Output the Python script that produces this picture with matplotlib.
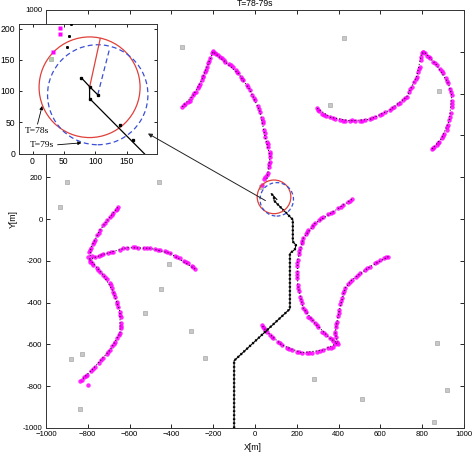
import matplotlib
matplotlib.use("Agg")
import matplotlib.pyplot as plt
from matplotlib.patches import Circle

plt.rcParams['font.family'] = ['Liberation Sans', 'DejaVu Sans']

# ---------------- data ----------------
title = "T=78-79s"
x_ticks = [-1000, -800, -600, -400, -200, 0, 200, 400, 600, 800, 1000]
y_ticks = [-1000, -800, -600, -400, -200, 0, 200, 400, 600, 800, 1000]
# labels of 400/600/800 are hidden under the inset in the reference
y_ticklabels = ['-1000', '-800', '-600', '-400', '-200', '0', '200', '', '', '', '1000']
inset_xticks = [0, 50, 100, 150]
inset_yticks = [0, 50, 100, 150, 200]

# landmarks (gray)
gray_x = [-351, 424, 360, 879, -898, -458, -932, -410, -451, -526, -308, -241, -827, -880, -837, 869, 282, 513, 917, 855, 30]
gray_y = [824, 867, 544, 612, 177, 177, 56, -217, -336, -452, -536, -666, -648, -669, -908, -593, -766, -861, -817, -970, 152]

# estimated target positions (magenta) per target
A_x = [-348, -335, -319, -305, -295, -283, -271, -262, -255, -247, -239, -231, -223, -215, -207, -200, -186, -176, -160, -144, -125, -104, -92, -80, -68, -56, -40, -24, -12, 0, 12, 24, 32, 40, 44, 48, 58, 64, 70, 72, 70, 68, 61, 48, 44, 33]
A_y = [537, 548, 561, 578, 593, 608, 625, 645, 665, 686, 705, 726, 745, 770, 793, 803, 790, 785, 770, 753, 742, 729, 712, 697, 680, 665, 642, 617, 593, 569, 540, 513, 485, 458, 425, 394, 370, 346, 320, 298, 272, 250, 219, 201, 191, 162]
B_x = [298, 308, 319, 338, 359, 383, 407, 430, 455, 478, 502, 526, 550, 574, 598, 622, 646, 666, 686, 706, 726, 738, 750, 762, 773, 781, 789, 794, 797, 805, 813, 825, 837, 853, 869, 885, 901, 913, 925, 933, 941, 943, 941, 936, 930, 924, 917, 905, 893, 881, 869, 857, 845]
B_y = [530, 516, 502, 494, 487, 480, 474, 471, 470, 468, 470, 474, 477, 488, 498, 510, 522, 536, 550, 567, 585, 609, 633, 657, 681, 705, 729, 760, 793, 798, 796, 782, 769, 753, 737, 717, 697, 673, 649, 621, 593, 565, 537, 505, 474, 450, 426, 406, 386, 370, 354, 343, 333]
C_x = [-654, -666, -678, -694, -710, -726, -742, -754, -766, -776, -786, -792, -798, -790, -766, -746, -726, -702, -678, -646, -614, -586, -558, -530, -502, -478, -455, -431, -407, -383, -359, -339, -319, -303, -287]
C_y = [59, 43, 27, 11, -5, -29, -53, -77, -100, -120, -140, -160, -180, -195, -180, -175, -169, -162, -156, -146, -137, -136, -137, -138, -140, -144, -148, -155, -164, -175, -188, -200, -212, -226, -239]
D_x = [-789, -773, -757, -742, -726, -710, -694, -686, -678, -670, -662, -654, -646, -643, -641, -643, -646, -658, -670, -682, -694, -710, -726, -746, -766, -786, -805, -818, -829, -798]
D_y = [-204, -220, -236, -252, -268, -288, -308, -328, -348, -372, -396, -420, -443, -471, -499, -523, -547, -567, -587, -607, -627, -647, -667, -687, -707, -726, -746, -758, -770, -794]
E_x = [463, 443, 423, 399, 375, 351, 327, 307, 287, 271, 255, 243, 231, 223, 215, 209, 204, 201, 199, 201, 204, 209, 215, 223, 231, 243, 255, 271, 287, 303, 319, 339, 359, 375, 391]
E_y = [94, 80, 67, 51, 35, 23, 11, -5, -21, -37, -53, -72, -92, -116, -140, -168, -196, -224, -252, -284, -316, -344, -372, -400, -427, -447, -467, -483, -499, -519, -539, -555, -571, -582, -592]
F_x = [638, 618, 598, 574, 550, 526, 502, 482, 463, 447, 431, 423, 415, 409, 404, 397, 391, 387, 383, 388, 394]
F_y = [-180, -188, -196, -212, -228, -244, -260, -276, -292, -312, -332, -356, -380, -408, -435, -463, -491, -515, -539, -563, -587]
G_x = [375, 351, 327, 299, 271, 247, 223, 199, 176, 152, 128, 108, 88, 72, 56, 44, 32]
G_y = [-611, -619, -627, -634, -640, -641, -640, -634, -627, -615, -603, -587, -571, -555, -539, -523, -507]

# second (scattered) detections per target
A2_x = [-340, -312, -290, -266, -250, -236, -219, -203, -193, -168, -150, -115, -86, -62, -32, -6, 18, 36, 46, 60, 74, 66, 56]
A2_y = [545, 566, 603, 637, 678, 715, 758, 797, 795, 776, 760, 735, 705, 672, 630, 580, 528, 470, 410, 360, 310, 262, 210]
B2_x = [303, 329, 371, 419, 466, 514, 562, 610, 656, 696, 716, 744, 768, 785, 793, 802, 831, 861, 893, 919, 937, 944, 933, 920, 899, 875, 851]
B2_y = [522, 497, 484, 470, 472, 470, 483, 503, 531, 557, 578, 621, 670, 718, 775, 800, 776, 745, 708, 661, 607, 551, 490, 438, 396, 362, 338]
C2_x = [-660, -686, -718, -748, -771, -789, -780, -736, -690, -630, -572, -516, -466, -419, -371, -329, -295]
C2_y = [50, 18, -17, -65, -110, -150, -176, -172, -159, -140, -135, -141, -146, -160, -181, -206, -232]
D2_x = [-781, -750, -718, -690, -674, -658, -644, -640, -652, -676, -702, -736, -776, -811, -835]
D2_y = [-212, -244, -278, -318, -360, -408, -457, -511, -557, -597, -637, -677, -716, -752, -776]
E2_x = [453, 411, 363, 317, 279, 249, 227, 212, 202, 200, 206, 219, 237, 263, 295, 329, 367, 385]
E2_y = [88, 59, 29, 3, -29, -62, -104, -154, -210, -268, -330, -386, -437, -475, -509, -547, -576, -598]
F2_x = [628, 586, 538, 492, 455, 427, 412, 400, 389, 385, 398]
F2_y = [-184, -204, -236, -268, -302, -344, -394, -449, -503, -551, -596]
G2_x = [363, 313, 259, 211, 164, 118, 80, 50, 38]
G2_y = [-615, -630, -640, -637, -621, -595, -563, -531, -515]

# true target tracks (black dotted)
A_tx = [-348, -295, -255, -223, -200, -144, -80, -24, 24, 48, 72, 61, 55]
A_ty = [537, 593, 665, 745, 800, 753, 697, 617, 513, 394, 298, 219, 171]
B_tx = [298, 359, 455, 550, 646, 726, 773, 797, 813, 869, 925, 941, 930, 893, 845]
B_ty = [530, 487, 470, 477, 522, 585, 681, 793, 796, 737, 649, 593, 474, 386, 333]
C_tx = [-287, -407, -502, -614, -726, -790, -786, -742, -654]
C_ty = [-239, -164, -140, -137, -169, -192, -140, -53, 59]
D_tx = [-790, -726, -678, -646, -646, -694, -766, -829]
D_ty = [-195, -268, -348, -443, -547, -627, -707, -770]
E_tx = [463, 375, 287, 231, 204, 204, 231, 287, 359, 391]
E_ty = [94, 35, -21, -92, -196, -316, -427, -499, -571, -592]
F_tx = [638, 550, 463, 431, 404, 383, 394]
F_ty = [-180, -228, -292, -332, -435, -539, -590]
G_tx = [391, 327, 223, 128, 56, 32]
G_ty = [-595, -627, -640, -603, -539, -507]

# robot path
robot_x = [-100, -100, 167, 167, 191, 196, 181, 181, 91, 91, 78]
robot_y = [-1000, -678, -430, -165, -145, -125, -108, -3, 88, 107, 121]
head_x = [91, 104.5]
head_y = [107, 93.5]

# sensing circles: T=78s (red), T=79s (blue)
c78_center = (91, 106)
c78_radius = 80.5
c78_edge = (108, 184)
c79_center = (104, 94)
c79_radius = 80
c79_edge = (123, 168)

# inset-only detail
inset_mag_x = [43.5, 44.6, 33]
inset_mag_y = [201, 191, 162]
inset_dot_x = [60.6, 58, 55]
inset_dot_y = [207, 188, 171]
inset_robot_dot_x = [78, 91, 104.5, 91, 139, 160]
inset_robot_dot_y = [121, 107, 93.5, 88, 45, 22]

# ---------------- figure ----------------
W = 474
fig = plt.figure(figsize=(4.74, 4.74), dpi=100)
ax = fig.add_axes([46 / W, 1 - 428 / W, 418 / W, 418 / W])

MAG = '#ff00ff'
GRAY = '#a8a8a8'

ax.plot(robot_x, robot_y, color='k', lw=0.8, zorder=3)
ax.plot(robot_x, robot_y, color='k', lw=1.7, linestyle=(0, (0.7, 1.0)), zorder=3)
ax.plot(head_x, head_y, color='k', lw=0.8, zorder=3)

mags = [(A_x, A_y), (B_x, B_y), (C_x, C_y), (D_x, D_y), (E_x, E_y), (F_x, F_y), (G_x, G_y),
        (A2_x, A2_y), (B2_x, B2_y), (C2_x, C2_y), (D2_x, D2_y), (E2_x, E2_y), (F2_x, F2_y), (G2_x, G2_y)]
tracks = [(A_tx, A_ty), (B_tx, B_ty), (C_tx, C_ty), (D_tx, D_ty), (E_tx, E_ty), (F_tx, F_ty), (G_tx, G_ty)]
for mx, my in mags:
    ax.plot(mx, my, 'o', color=MAG, ms=3.2, mec='none', alpha=0.85, zorder=2)
for tx, ty in tracks:
    ax.plot(tx, ty, color='k', lw=0.7, linestyle=(0, (1, 2.2)), zorder=4)

ax.plot(gray_x, gray_y, 's', ms=2.3, mfc='#c8c8c8', mec=GRAY, mew=0.5, zorder=1)

ax.add_patch(Circle(c78_center, c78_radius, fill=False, ec='#e0403a', lw=0.9, zorder=5))
ax.add_patch(Circle(c79_center, c79_radius, fill=False, ec='#3a4fd8', lw=0.9, ls=(0, (3, 2)), zorder=5))

ax.set_xlim(-1000, 1000)
ax.set_ylim(-1000, 1000)
ax.set_xticks(x_ticks)
ax.set_yticks(y_ticks)
ax.set_yticklabels(y_ticklabels)
ax.tick_params(direction='in', top=True, right=True, length=3, width=0.6,
               labelsize=5.6, pad=2.5)
for s in ax.spines.values():
    s.set_linewidth(0.7)
    s.set_color('#333333')

fig.text(255 / W, 1 - 4 / W, title, ha='center', va='center', fontsize=6.2)
fig.text(253 / W, 1 - 447 / W, 'X[m]', ha='center', va='center', fontsize=6.2)
fig.text(13 / W, 1 - 219 / W, 'Y[m]', ha='center', va='center', fontsize=6.2, rotation=90)

# ---------------- inset ----------------
ins = fig.add_axes([18.7 / W, 1 - 153.5 / W, 138 / W, 130 / W])
ins.set_facecolor('white')
ins.add_patch(Circle(c78_center, c78_radius, fill=False, ec='#e0403a', lw=0.9, zorder=3))
ins.add_patch(Circle(c79_center, c79_radius, fill=False, ec='#3a4fd8', lw=0.9, ls=(0, (4, 2.5)), zorder=3))
ins.plot([c78_center[0], c78_edge[0]], [c78_center[1], c78_edge[1]], color='#e0403a', lw=0.9, zorder=3)
ins.plot([c79_center[0], c79_edge[0]], [c79_center[1], c79_edge[1]], color='#3a4fd8', lw=0.9,
         ls=(0, (4, 2.5)), zorder=3)
ins.plot(robot_x, robot_y, color='k', lw=0.9, zorder=4)
ins.plot(head_x, head_y, color='k', lw=0.9, zorder=4)
ins.plot(inset_robot_dot_x, inset_robot_dot_y, 's', color='k', ms=1.4, zorder=4)
ins.plot(inset_mag_x, inset_mag_y, 's', color=MAG, ms=3.2, mec='none', zorder=4)
ins.plot(inset_dot_x, inset_dot_y, 's', color='k', ms=1.1, zorder=4)
ins.plot(gray_x, gray_y, 's', ms=3.0, mfc='#b5c8b0', mec='#a0b09a', mew=0.5, zorder=4)

ins.set_xlim(-22, 198)
ins.set_ylim(0, 208)
ins.set_xticks(inset_xticks)
ins.set_yticks(inset_yticks)
ins.tick_params(direction='in', top=True, right=True, length=2.5, width=0.6,
                labelsize=6.2, pad=2.5)
for s in ins.spines.values():
    s.set_linewidth(0.7)
    s.set_color('#333333')

serif = ['Liberation Serif', 'DejaVu Serif']
ap = dict(arrowstyle='-|>', color='k', lw=0.6, mutation_scale=5, shrinkA=0, shrinkB=0)
ins.text(-12, 36, 'T=78s', family=serif, fontsize=6.8, va='center', ha='left', zorder=6)
ins.annotate('', xy=(15.4, 76), xytext=(8, 47), arrowprops=ap)
ins.text(-5, 13, 'T=79s', family=serif, fontsize=6.8, va='center', ha='left', zorder=6)
ins.annotate('', xy=(78, 17), xytext=(40, 14), arrowprops=ap)

# connector arrow from main circle to inset
ins.annotate('', xy=(184, 32), xycoords='data', xytext=(50, 88), textcoords=ax.transData,
             arrowprops=dict(arrowstyle='-|>', color='#222222', lw=0.7, mutation_scale=6,
                             shrinkA=0, shrinkB=0), annotation_clip=False)

fig.savefig('out.png', dpi=100)
